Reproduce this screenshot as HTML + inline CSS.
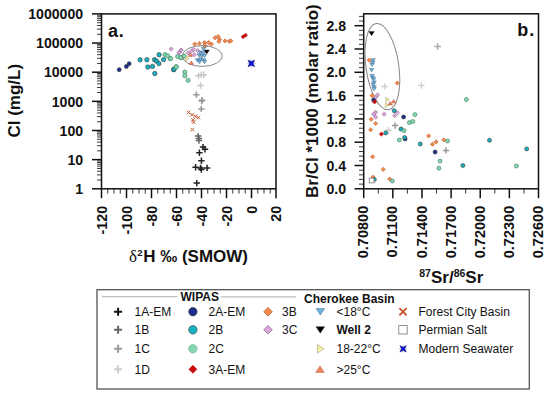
<!DOCTYPE html>
<html><head><meta charset="utf-8"><style>
html,body{margin:0;padding:0;background:#fff;width:550px;height:397px;overflow:hidden}
svg{display:block}
</style></head><body>
<svg width="550" height="397" viewBox="0 0 550 397">
<rect width="550" height="397" fill="#fff"/>
<line x1="97" y1="180.02" x2="101.5" y2="180.02" stroke="#222" stroke-width="0.9"/>
<line x1="97" y1="174.89" x2="101.5" y2="174.89" stroke="#222" stroke-width="0.9"/>
<line x1="97" y1="171.25" x2="101.5" y2="171.25" stroke="#222" stroke-width="0.9"/>
<line x1="97" y1="168.43" x2="101.5" y2="168.43" stroke="#222" stroke-width="0.9"/>
<line x1="97" y1="166.12" x2="101.5" y2="166.12" stroke="#222" stroke-width="0.9"/>
<line x1="97" y1="164.17" x2="101.5" y2="164.17" stroke="#222" stroke-width="0.9"/>
<line x1="97" y1="162.47" x2="101.5" y2="162.47" stroke="#222" stroke-width="0.9"/>
<line x1="97" y1="160.98" x2="101.5" y2="160.98" stroke="#222" stroke-width="0.9"/>
<line x1="97" y1="150.87" x2="101.5" y2="150.87" stroke="#222" stroke-width="0.9"/>
<line x1="97" y1="145.74" x2="101.5" y2="145.74" stroke="#222" stroke-width="0.9"/>
<line x1="97" y1="142.10" x2="101.5" y2="142.10" stroke="#222" stroke-width="0.9"/>
<line x1="97" y1="139.28" x2="101.5" y2="139.28" stroke="#222" stroke-width="0.9"/>
<line x1="97" y1="136.97" x2="101.5" y2="136.97" stroke="#222" stroke-width="0.9"/>
<line x1="97" y1="135.02" x2="101.5" y2="135.02" stroke="#222" stroke-width="0.9"/>
<line x1="97" y1="133.32" x2="101.5" y2="133.32" stroke="#222" stroke-width="0.9"/>
<line x1="97" y1="131.83" x2="101.5" y2="131.83" stroke="#222" stroke-width="0.9"/>
<line x1="97" y1="121.72" x2="101.5" y2="121.72" stroke="#222" stroke-width="0.9"/>
<line x1="97" y1="116.59" x2="101.5" y2="116.59" stroke="#222" stroke-width="0.9"/>
<line x1="97" y1="112.95" x2="101.5" y2="112.95" stroke="#222" stroke-width="0.9"/>
<line x1="97" y1="110.13" x2="101.5" y2="110.13" stroke="#222" stroke-width="0.9"/>
<line x1="97" y1="107.82" x2="101.5" y2="107.82" stroke="#222" stroke-width="0.9"/>
<line x1="97" y1="105.87" x2="101.5" y2="105.87" stroke="#222" stroke-width="0.9"/>
<line x1="97" y1="104.17" x2="101.5" y2="104.17" stroke="#222" stroke-width="0.9"/>
<line x1="97" y1="102.68" x2="101.5" y2="102.68" stroke="#222" stroke-width="0.9"/>
<line x1="97" y1="92.57" x2="101.5" y2="92.57" stroke="#222" stroke-width="0.9"/>
<line x1="97" y1="87.44" x2="101.5" y2="87.44" stroke="#222" stroke-width="0.9"/>
<line x1="97" y1="83.80" x2="101.5" y2="83.80" stroke="#222" stroke-width="0.9"/>
<line x1="97" y1="80.98" x2="101.5" y2="80.98" stroke="#222" stroke-width="0.9"/>
<line x1="97" y1="78.67" x2="101.5" y2="78.67" stroke="#222" stroke-width="0.9"/>
<line x1="97" y1="76.72" x2="101.5" y2="76.72" stroke="#222" stroke-width="0.9"/>
<line x1="97" y1="75.02" x2="101.5" y2="75.02" stroke="#222" stroke-width="0.9"/>
<line x1="97" y1="73.53" x2="101.5" y2="73.53" stroke="#222" stroke-width="0.9"/>
<line x1="97" y1="63.42" x2="101.5" y2="63.42" stroke="#222" stroke-width="0.9"/>
<line x1="97" y1="58.29" x2="101.5" y2="58.29" stroke="#222" stroke-width="0.9"/>
<line x1="97" y1="54.65" x2="101.5" y2="54.65" stroke="#222" stroke-width="0.9"/>
<line x1="97" y1="51.83" x2="101.5" y2="51.83" stroke="#222" stroke-width="0.9"/>
<line x1="97" y1="49.52" x2="101.5" y2="49.52" stroke="#222" stroke-width="0.9"/>
<line x1="97" y1="47.57" x2="101.5" y2="47.57" stroke="#222" stroke-width="0.9"/>
<line x1="97" y1="45.87" x2="101.5" y2="45.87" stroke="#222" stroke-width="0.9"/>
<line x1="97" y1="44.38" x2="101.5" y2="44.38" stroke="#222" stroke-width="0.9"/>
<line x1="97" y1="34.27" x2="101.5" y2="34.27" stroke="#222" stroke-width="0.9"/>
<line x1="97" y1="29.14" x2="101.5" y2="29.14" stroke="#222" stroke-width="0.9"/>
<line x1="97" y1="25.50" x2="101.5" y2="25.50" stroke="#222" stroke-width="0.9"/>
<line x1="97" y1="22.68" x2="101.5" y2="22.68" stroke="#222" stroke-width="0.9"/>
<line x1="97" y1="20.37" x2="101.5" y2="20.37" stroke="#222" stroke-width="0.9"/>
<line x1="97" y1="18.42" x2="101.5" y2="18.42" stroke="#222" stroke-width="0.9"/>
<line x1="97" y1="16.72" x2="101.5" y2="16.72" stroke="#222" stroke-width="0.9"/>
<line x1="97" y1="15.23" x2="101.5" y2="15.23" stroke="#222" stroke-width="0.9"/>
<line x1="92" y1="188.80" x2="101.5" y2="188.80" stroke="#111" stroke-width="1.5"/>
<text x="83.1" y="194.05" text-anchor="end" font-family="'Liberation Sans', sans-serif" font-weight="bold" font-size="14.1" fill="#111">1</text>
<line x1="92" y1="159.65" x2="101.5" y2="159.65" stroke="#111" stroke-width="1.5"/>
<text x="83.1" y="164.90" text-anchor="end" font-family="'Liberation Sans', sans-serif" font-weight="bold" font-size="14.1" fill="#111">10</text>
<line x1="92" y1="130.50" x2="101.5" y2="130.50" stroke="#111" stroke-width="1.5"/>
<text x="83.1" y="135.75" text-anchor="end" font-family="'Liberation Sans', sans-serif" font-weight="bold" font-size="14.1" fill="#111">100</text>
<line x1="92" y1="101.35" x2="101.5" y2="101.35" stroke="#111" stroke-width="1.5"/>
<text x="83.1" y="106.60" text-anchor="end" font-family="'Liberation Sans', sans-serif" font-weight="bold" font-size="14.1" fill="#111">1000</text>
<line x1="92" y1="72.20" x2="101.5" y2="72.20" stroke="#111" stroke-width="1.5"/>
<text x="83.1" y="77.45" text-anchor="end" font-family="'Liberation Sans', sans-serif" font-weight="bold" font-size="14.1" fill="#111">10000</text>
<line x1="92" y1="43.05" x2="101.5" y2="43.05" stroke="#111" stroke-width="1.5"/>
<text x="83.1" y="48.30" text-anchor="end" font-family="'Liberation Sans', sans-serif" font-weight="bold" font-size="14.1" fill="#111">100000</text>
<line x1="92" y1="13.90" x2="101.5" y2="13.90" stroke="#111" stroke-width="1.5"/>
<text x="83.1" y="19.15" text-anchor="end" font-family="'Liberation Sans', sans-serif" font-weight="bold" font-size="14.1" fill="#111">1000000</text>
<line x1="101.50" y1="188.8" x2="101.50" y2="198.2" stroke="#111" stroke-width="1.5"/>
<text transform="translate(106.50,205.9) rotate(-90)" text-anchor="end" font-family="'Liberation Sans', sans-serif" font-weight="bold" font-size="14.3" fill="#111">-120</text>
<line x1="107.75" y1="188.8" x2="107.75" y2="193.6" stroke="#222" stroke-width="0.9"/>
<line x1="114.00" y1="188.8" x2="114.00" y2="193.6" stroke="#222" stroke-width="0.9"/>
<line x1="120.25" y1="188.8" x2="120.25" y2="193.6" stroke="#222" stroke-width="0.9"/>
<line x1="126.50" y1="188.8" x2="126.50" y2="198.2" stroke="#111" stroke-width="1.5"/>
<text transform="translate(131.50,205.9) rotate(-90)" text-anchor="end" font-family="'Liberation Sans', sans-serif" font-weight="bold" font-size="14.3" fill="#111">-100</text>
<line x1="132.75" y1="188.8" x2="132.75" y2="193.6" stroke="#222" stroke-width="0.9"/>
<line x1="139.00" y1="188.8" x2="139.00" y2="193.6" stroke="#222" stroke-width="0.9"/>
<line x1="145.25" y1="188.8" x2="145.25" y2="193.6" stroke="#222" stroke-width="0.9"/>
<line x1="151.50" y1="188.8" x2="151.50" y2="198.2" stroke="#111" stroke-width="1.5"/>
<text transform="translate(156.50,205.9) rotate(-90)" text-anchor="end" font-family="'Liberation Sans', sans-serif" font-weight="bold" font-size="14.3" fill="#111">-80</text>
<line x1="157.75" y1="188.8" x2="157.75" y2="193.6" stroke="#222" stroke-width="0.9"/>
<line x1="164.00" y1="188.8" x2="164.00" y2="193.6" stroke="#222" stroke-width="0.9"/>
<line x1="170.25" y1="188.8" x2="170.25" y2="193.6" stroke="#222" stroke-width="0.9"/>
<line x1="176.50" y1="188.8" x2="176.50" y2="198.2" stroke="#111" stroke-width="1.5"/>
<text transform="translate(181.50,205.9) rotate(-90)" text-anchor="end" font-family="'Liberation Sans', sans-serif" font-weight="bold" font-size="14.3" fill="#111">-60</text>
<line x1="182.75" y1="188.8" x2="182.75" y2="193.6" stroke="#222" stroke-width="0.9"/>
<line x1="189.00" y1="188.8" x2="189.00" y2="193.6" stroke="#222" stroke-width="0.9"/>
<line x1="195.25" y1="188.8" x2="195.25" y2="193.6" stroke="#222" stroke-width="0.9"/>
<line x1="201.50" y1="188.8" x2="201.50" y2="198.2" stroke="#111" stroke-width="1.5"/>
<text transform="translate(206.50,205.9) rotate(-90)" text-anchor="end" font-family="'Liberation Sans', sans-serif" font-weight="bold" font-size="14.3" fill="#111">-40</text>
<line x1="207.75" y1="188.8" x2="207.75" y2="193.6" stroke="#222" stroke-width="0.9"/>
<line x1="214.00" y1="188.8" x2="214.00" y2="193.6" stroke="#222" stroke-width="0.9"/>
<line x1="220.25" y1="188.8" x2="220.25" y2="193.6" stroke="#222" stroke-width="0.9"/>
<line x1="226.50" y1="188.8" x2="226.50" y2="198.2" stroke="#111" stroke-width="1.5"/>
<text transform="translate(231.50,205.9) rotate(-90)" text-anchor="end" font-family="'Liberation Sans', sans-serif" font-weight="bold" font-size="14.3" fill="#111">-20</text>
<line x1="232.75" y1="188.8" x2="232.75" y2="193.6" stroke="#222" stroke-width="0.9"/>
<line x1="239.00" y1="188.8" x2="239.00" y2="193.6" stroke="#222" stroke-width="0.9"/>
<line x1="245.25" y1="188.8" x2="245.25" y2="193.6" stroke="#222" stroke-width="0.9"/>
<line x1="251.50" y1="188.8" x2="251.50" y2="198.2" stroke="#111" stroke-width="1.5"/>
<text transform="translate(256.50,205.9) rotate(-90)" text-anchor="end" font-family="'Liberation Sans', sans-serif" font-weight="bold" font-size="14.3" fill="#111">0</text>
<line x1="257.75" y1="188.8" x2="257.75" y2="193.6" stroke="#222" stroke-width="0.9"/>
<line x1="264.00" y1="188.8" x2="264.00" y2="193.6" stroke="#222" stroke-width="0.9"/>
<line x1="270.25" y1="188.8" x2="270.25" y2="193.6" stroke="#222" stroke-width="0.9"/>
<line x1="276" y1="188.8" x2="276" y2="198.2" stroke="#111" stroke-width="1.5"/>
<text transform="translate(281.00,205.9) rotate(-90)" text-anchor="end" font-family="'Liberation Sans', sans-serif" font-weight="bold" font-size="14.3" fill="#111">20</text>
<rect x="101.5" y="13.9" width="174.5" height="174.9" fill="none" stroke="#111" stroke-width="1.5"/>
<text transform="translate(19.6,100.7) rotate(-90)" text-anchor="middle" font-family="'Liberation Sans', sans-serif" font-weight="bold" font-size="17" fill="#111">Cl (mg/L)</text>
<text x="107.9" y="36.7" font-family="'Liberation Sans', sans-serif" font-weight="bold" font-size="18" letter-spacing="0.9" fill="#111">a.</text>
<text x="188.5" y="262.2" text-anchor="middle" font-family="'Liberation Sans', sans-serif" font-weight="bold" font-size="17" fill="#111"><tspan font-weight="normal" font-family="'Liberation Serif', serif">δ</tspan><tspan font-size="9.5" dy="-6.2" dx="0.3">2</tspan><tspan dy="6.2" dx="0.6">H ‰ (SMOW)</tspan></text>
<circle cx="119.2" cy="69.7" r="2.0" fill="#1b2d8e" stroke="#333" stroke-width="0.6"/>
<circle cx="126.4" cy="66.4" r="2.0" fill="#1b2d8e" stroke="#333" stroke-width="0.6"/>
<circle cx="129.1" cy="63.7" r="2.0" fill="#1b2d8e" stroke="#333" stroke-width="0.6"/>
<circle cx="140.1" cy="59.8" r="2.2" fill="#17b3c3" stroke="#333" stroke-width="0.6"/>
<circle cx="146.9" cy="59.8" r="2.2" fill="#17b3c3" stroke="#333" stroke-width="0.6"/>
<circle cx="147.8" cy="67" r="2.2" fill="#17b3c3" stroke="#333" stroke-width="0.6"/>
<circle cx="152.5" cy="66.4" r="2.2" fill="#17b3c3" stroke="#333" stroke-width="0.6"/>
<circle cx="154.5" cy="59.6" r="2.2" fill="#17b3c3" stroke="#333" stroke-width="0.6"/>
<circle cx="156.5" cy="61.1" r="2.2" fill="#17b3c3" stroke="#333" stroke-width="0.6"/>
<circle cx="158.9" cy="63.6" r="2.2" fill="#17b3c3" stroke="#333" stroke-width="0.6"/>
<circle cx="159.1" cy="54.8" r="2.2" fill="#17b3c3" stroke="#333" stroke-width="0.6"/>
<circle cx="163.6" cy="59.6" r="2.2" fill="#17b3c3" stroke="#333" stroke-width="0.6"/>
<circle cx="154.8" cy="73.5" r="2.2" fill="#17b3c3" stroke="#333" stroke-width="0.6"/>
<circle cx="173.7" cy="69.7" r="2.2" fill="#17b3c3" stroke="#333" stroke-width="0.6"/>
<circle cx="174" cy="69.2" r="2.2" fill="#17b3c3" stroke="#333" stroke-width="0.6"/>
<circle cx="165.1" cy="54.6" r="2.1" fill="#86d7b1" stroke="#4a8a6c" stroke-width="0.7"/>
<circle cx="167.6" cy="55.9" r="2.1" fill="#86d7b1" stroke="#4a8a6c" stroke-width="0.7"/>
<circle cx="170.2" cy="58.6" r="2.1" fill="#86d7b1" stroke="#4a8a6c" stroke-width="0.7"/>
<circle cx="176.2" cy="66.7" r="2.1" fill="#86d7b1" stroke="#4a8a6c" stroke-width="0.7"/>
<circle cx="177.7" cy="56.6" r="2.1" fill="#86d7b1" stroke="#4a8a6c" stroke-width="0.7"/>
<circle cx="181.2" cy="57.6" r="2.1" fill="#86d7b1" stroke="#4a8a6c" stroke-width="0.7"/>
<circle cx="184.3" cy="56.1" r="2.1" fill="#86d7b1" stroke="#4a8a6c" stroke-width="0.7"/>
<circle cx="184.8" cy="72" r="2.1" fill="#86d7b1" stroke="#4a8a6c" stroke-width="0.7"/>
<circle cx="184.8" cy="75.7" r="2.1" fill="#86d7b1" stroke="#4a8a6c" stroke-width="0.7"/>
<circle cx="188.1" cy="80.3" r="2.1" fill="#86d7b1" stroke="#4a8a6c" stroke-width="0.7"/>
<circle cx="170.6" cy="58.5" r="2.1" fill="#86d7b1" stroke="#4a8a6c" stroke-width="0.7"/>
<circle cx="180.8" cy="57.7" r="2.1" fill="#86d7b1" stroke="#4a8a6c" stroke-width="0.7"/>
<circle cx="176.2" cy="67" r="2.1" fill="#86d7b1" stroke="#4a8a6c" stroke-width="0.7"/>
<path d="M171.2 46.9L173.29999999999998 49L171.2 51.1L169.1 49Z" fill="#dfa6de" stroke="#8a6a8a" stroke-width="0.6"/>
<path d="M179.2 50.5L181.29999999999998 52.6L179.2 54.7L177.1 52.6Z" fill="#dfa6de" stroke="#8a6a8a" stroke-width="0.6"/>
<path d="M181.2 47.9L183.29999999999998 50L181.2 52.1L179.1 50Z" fill="#dfa6de" stroke="#8a6a8a" stroke-width="0.6"/>
<path d="M180.8 48.1L182.9 50.2L180.8 52.300000000000004L178.70000000000002 50.2Z" fill="#dfa6de" stroke="#8a6a8a" stroke-width="0.6"/>
<path d="M179.1 50.699999999999996L181.2 52.8L179.1 54.9L177.0 52.8Z" fill="#dfa6de" stroke="#8a6a8a" stroke-width="0.6"/>
<path d="M188.1 50.699999999999996L190.2 52.8L188.1 54.9L186.0 52.8Z" fill="#dfa6de" stroke="#8a6a8a" stroke-width="0.6"/>
<path d="M191.5 49.0L193.6 51.1L191.5 53.2L189.4 51.1Z" fill="#dfa6de" stroke="#8a6a8a" stroke-width="0.6"/>
<path d="M193.8 47.3L195.9 49.4L193.8 51.5L191.70000000000002 49.4Z" fill="#dfa6de" stroke="#8a6a8a" stroke-width="0.6"/>
<path d="M197.8 48.4L199.9 50.5L197.8 52.6L195.70000000000002 50.5Z" fill="#dfa6de" stroke="#8a6a8a" stroke-width="0.6"/>
<path d="M194.4 52.6L196.5 54.7L194.4 56.800000000000004L192.3 54.7Z" fill="#dfa6de" stroke="#8a6a8a" stroke-width="0.6"/>
<path d="M194.7 42.0L196.79999999999998 44.1L194.7 46.2L192.6 44.1Z" fill="#f5884d" stroke="#b5622f" stroke-width="0.6"/>
<path d="M199.3 41.4L201.4 43.5L199.3 45.6L197.20000000000002 43.5Z" fill="#f5884d" stroke="#b5622f" stroke-width="0.6"/>
<path d="M204.6 40.5L206.7 42.6L204.6 44.7L202.5 42.6Z" fill="#f5884d" stroke="#b5622f" stroke-width="0.6"/>
<path d="M208.6 40.5L210.7 42.6L208.6 44.7L206.5 42.6Z" fill="#f5884d" stroke="#b5622f" stroke-width="0.6"/>
<path d="M211.4 42.0L213.5 44.1L211.4 46.2L209.3 44.1Z" fill="#f5884d" stroke="#b5622f" stroke-width="0.6"/>
<path d="M205.2 43.9L207.29999999999998 46L205.2 48.1L203.1 46Z" fill="#f5884d" stroke="#b5622f" stroke-width="0.6"/>
<path d="M215.1 35.699999999999996L217.2 37.8L215.1 39.9L213.0 37.8Z" fill="#f5884d" stroke="#b5622f" stroke-width="0.6"/>
<path d="M218.1 34.5L220.2 36.6L218.1 38.7L216.0 36.6Z" fill="#f5884d" stroke="#b5622f" stroke-width="0.6"/>
<path d="M219.7 37.3L221.79999999999998 39.4L219.7 41.5L217.6 39.4Z" fill="#f5884d" stroke="#b5622f" stroke-width="0.6"/>
<path d="M218.9 39.4L221.0 41.5L218.9 43.6L216.8 41.5Z" fill="#f5884d" stroke="#b5622f" stroke-width="0.6"/>
<path d="M225 38.8L227.1 40.9L225 43.0L222.9 40.9Z" fill="#f5884d" stroke="#b5622f" stroke-width="0.6"/>
<path d="M229.2 39.199999999999996L231.29999999999998 41.3L229.2 43.4L227.1 41.3Z" fill="#f5884d" stroke="#b5622f" stroke-width="0.6"/>
<path d="M230.8 38.8L232.9 40.9L230.8 43.0L228.70000000000002 40.9Z" fill="#f5884d" stroke="#b5622f" stroke-width="0.6"/>
<path d="M204.5 43.6L206.6 45.7L204.5 47.800000000000004L202.4 45.7Z" fill="#f5884d" stroke="#b5622f" stroke-width="0.6"/>
<ellipse cx="202.2" cy="56" rx="20" ry="10.4" fill="none" stroke="#888" stroke-width="1"/>
<path d="M185.62 56.2L185.62 60.8L189.07 58.5Z" fill="#f5f0a6" stroke="#aaa070" stroke-width="0.6"/>
<path d="M188.1 56.38L192.70000000000002 56.38L190.4 52.93Z" fill="#f28552" stroke="#a55" stroke-width="0.5"/>
<path d="M189.0 64.38L193.60000000000002 64.38L191.3 60.93Z" fill="#f28552" stroke="#a55" stroke-width="0.5"/>
<path d="M201.20000000000002 47.38L205.6 47.38L203.4 50.68Z" fill="#6db6df" stroke="#468" stroke-width="0.5"/>
<path d="M198.10000000000002 50.98L202.5 50.98L200.3 54.279999999999994Z" fill="#6db6df" stroke="#468" stroke-width="0.5"/>
<path d="M200.9 51.78L205.29999999999998 51.78L203.1 55.08Z" fill="#6db6df" stroke="#468" stroke-width="0.5"/>
<path d="M197.0 53.78L201.39999999999998 53.78L199.2 57.08Z" fill="#6db6df" stroke="#468" stroke-width="0.5"/>
<path d="M199.5 54.58L203.89999999999998 54.58L201.7 57.879999999999995Z" fill="#6db6df" stroke="#468" stroke-width="0.5"/>
<path d="M202.3 54.28L206.7 54.28L204.5 57.58Z" fill="#6db6df" stroke="#468" stroke-width="0.5"/>
<path d="M195.3 58.78L199.7 58.78L197.5 62.08Z" fill="#6db6df" stroke="#468" stroke-width="0.5"/>
<path d="M198.10000000000002 57.88L202.5 57.88L200.3 61.18Z" fill="#6db6df" stroke="#468" stroke-width="0.5"/>
<path d="M201.4 58.78L205.79999999999998 58.78L203.6 62.08Z" fill="#6db6df" stroke="#468" stroke-width="0.5"/>
<path d="M197.3 60.38L201.7 60.38L199.5 63.68Z" fill="#6db6df" stroke="#468" stroke-width="0.5"/>
<path d="M202.3 60.38L206.7 60.38L204.5 63.68Z" fill="#6db6df" stroke="#468" stroke-width="0.5"/>
<path d="M204.0 49.980000000000004L209.39999999999998 49.980000000000004L206.7 54.03Z" fill="#000" stroke="#333" stroke-width="0.5"/>
<rect x="-2.8" y="-1.35" width="5.6" height="2.7" fill="#c80a0a" stroke="#a00" stroke-width="0.4" transform="translate(244.3 36) rotate(-32)"/>
<path d="M251.3 58.8V68.0M246.70000000000002 63.4H255.9" stroke="#c4c4d0" stroke-width="0.8"/>
<polygon points="254.55,60.15 253.10,63.40 254.55,66.65 251.30,65.20 248.05,66.65 249.50,63.40 248.05,60.15 251.30,61.60" fill="#0a12e6" stroke="#101070" stroke-width="0.6" stroke-linejoin="miter"/>
<path d="M195.20000000000002 75.7H201.6M198.4 72.5V78.9" stroke="#c8c8c8" stroke-width="1.5" fill="none"/>
<path d="M198.10000000000002 74.8H204.5M201.3 71.6V78.0" stroke="#c8c8c8" stroke-width="1.5" fill="none"/>
<path d="M200.60000000000002 74.8H207.0M203.8 71.6V78.0" stroke="#c8c8c8" stroke-width="1.5" fill="none"/>
<path d="M197.3 85.5H203.7M200.5 82.3V88.7" stroke="#c8c8c8" stroke-width="1.5" fill="none"/>
<path d="M193.20000000000002 94.8H199.6M196.4 91.6V98.0" stroke="#999" stroke-width="1.5" fill="none"/>
<path d="M198.9 100.2H205.29999999999998M202.1 97.0V103.4" stroke="#999" stroke-width="1.5" fill="none"/>
<path d="M198.10000000000002 108.9H204.5M201.3 105.7V112.10000000000001" stroke="#999" stroke-width="1.5" fill="none"/>
<path d="M198.5 101.1H204.89999999999998M201.7 97.89999999999999V104.3" stroke="#999" stroke-width="1.5" fill="none"/>
<path d="M186.79999999999998 110.60000000000001L190.4 114.2M190.4 110.60000000000001L186.79999999999998 114.2" stroke="#c4532b" stroke-width="0.95" fill="none"/>
<path d="M190.2 112.9L193.8 116.5M193.8 112.9L190.2 116.5" stroke="#c4532b" stroke-width="0.95" fill="none"/>
<path d="M193.6 114.5L197.20000000000002 118.1M197.20000000000002 114.5L193.6 118.1" stroke="#c4532b" stroke-width="0.95" fill="none"/>
<path d="M196.5 115.8L200.10000000000002 119.39999999999999M200.10000000000002 115.8L196.5 119.39999999999999" stroke="#c4532b" stroke-width="0.95" fill="none"/>
<path d="M191.29999999999998 118.10000000000001L194.9 121.7M194.9 118.10000000000001L191.29999999999998 121.7" stroke="#c4532b" stroke-width="0.95" fill="none"/>
<path d="M191.79999999999998 120.4L195.4 124.0M195.4 120.4L191.79999999999998 124.0" stroke="#c4532b" stroke-width="0.95" fill="none"/>
<path d="M190.6 127.8L194.20000000000002 131.4M194.20000000000002 127.8L190.6 131.4" stroke="#c4532b" stroke-width="0.95" fill="none"/>
<path d="M194.9 136.1H201.29999999999998M198.1 132.9V139.29999999999998" stroke="#666" stroke-width="1.5" fill="none"/>
<path d="M195.70000000000002 138.4H202.1M198.9 135.20000000000002V141.6" stroke="#666" stroke-width="1.5" fill="none"/>
<path d="M195.70000000000002 140.5H202.1M198.9 137.3V143.7" stroke="#666" stroke-width="1.5" fill="none"/>
<path d="M199.8 147.1H206.2M203 143.9V150.29999999999998" stroke="#222" stroke-width="1.5" fill="none"/>
<path d="M201.8 149.2H208.2M205 146.0V152.39999999999998" stroke="#222" stroke-width="1.5" fill="none"/>
<path d="M196.20000000000002 152.8H202.6M199.4 149.60000000000002V156.0" stroke="#222" stroke-width="1.5" fill="none"/>
<path d="M198.20000000000002 160.7H204.6M201.4 157.5V163.89999999999998" stroke="#222" stroke-width="1.5" fill="none"/>
<path d="M192.4 167.2H198.79999999999998M195.6 164.0V170.39999999999998" stroke="#222" stroke-width="1.5" fill="none"/>
<path d="M197.3 167.9H203.7M200.5 164.70000000000002V171.1" stroke="#222" stroke-width="1.5" fill="none"/>
<path d="M198.20000000000002 169.5H204.6M201.4 166.3V172.7" stroke="#222" stroke-width="1.5" fill="none"/>
<path d="M203.9 167.9H210.29999999999998M207.1 164.70000000000002V171.1" stroke="#222" stroke-width="1.5" fill="none"/>
<path d="M193.60000000000002 183.1H200.0M196.8 179.9V186.29999999999998" stroke="#222" stroke-width="1.5" fill="none"/>
<line x1="354.5" y1="188.80" x2="363.7" y2="188.80" stroke="#111" stroke-width="1.5"/>
<text x="346" y="193.90" text-anchor="end" font-family="'Liberation Sans', sans-serif" font-weight="bold" font-size="14.1" fill="#111">0.0</text>
<line x1="359" y1="184.14" x2="363.7" y2="184.14" stroke="#222" stroke-width="0.9"/>
<line x1="359" y1="179.48" x2="363.7" y2="179.48" stroke="#222" stroke-width="0.9"/>
<line x1="359" y1="174.82" x2="363.7" y2="174.82" stroke="#222" stroke-width="0.9"/>
<line x1="359" y1="170.16" x2="363.7" y2="170.16" stroke="#222" stroke-width="0.9"/>
<line x1="354.5" y1="165.50" x2="363.7" y2="165.50" stroke="#111" stroke-width="1.5"/>
<text x="346" y="170.60" text-anchor="end" font-family="'Liberation Sans', sans-serif" font-weight="bold" font-size="14.1" fill="#111">0.4</text>
<line x1="359" y1="160.84" x2="363.7" y2="160.84" stroke="#222" stroke-width="0.9"/>
<line x1="359" y1="156.18" x2="363.7" y2="156.18" stroke="#222" stroke-width="0.9"/>
<line x1="359" y1="151.52" x2="363.7" y2="151.52" stroke="#222" stroke-width="0.9"/>
<line x1="359" y1="146.86" x2="363.7" y2="146.86" stroke="#222" stroke-width="0.9"/>
<line x1="354.5" y1="142.20" x2="363.7" y2="142.20" stroke="#111" stroke-width="1.5"/>
<text x="346" y="147.30" text-anchor="end" font-family="'Liberation Sans', sans-serif" font-weight="bold" font-size="14.1" fill="#111">0.8</text>
<line x1="359" y1="137.54" x2="363.7" y2="137.54" stroke="#222" stroke-width="0.9"/>
<line x1="359" y1="132.88" x2="363.7" y2="132.88" stroke="#222" stroke-width="0.9"/>
<line x1="359" y1="128.22" x2="363.7" y2="128.22" stroke="#222" stroke-width="0.9"/>
<line x1="359" y1="123.56" x2="363.7" y2="123.56" stroke="#222" stroke-width="0.9"/>
<line x1="354.5" y1="118.90" x2="363.7" y2="118.90" stroke="#111" stroke-width="1.5"/>
<text x="346" y="124.00" text-anchor="end" font-family="'Liberation Sans', sans-serif" font-weight="bold" font-size="14.1" fill="#111">1.2</text>
<line x1="359" y1="114.24" x2="363.7" y2="114.24" stroke="#222" stroke-width="0.9"/>
<line x1="359" y1="109.58" x2="363.7" y2="109.58" stroke="#222" stroke-width="0.9"/>
<line x1="359" y1="104.92" x2="363.7" y2="104.92" stroke="#222" stroke-width="0.9"/>
<line x1="359" y1="100.26" x2="363.7" y2="100.26" stroke="#222" stroke-width="0.9"/>
<line x1="354.5" y1="95.60" x2="363.7" y2="95.60" stroke="#111" stroke-width="1.5"/>
<text x="346" y="100.70" text-anchor="end" font-family="'Liberation Sans', sans-serif" font-weight="bold" font-size="14.1" fill="#111">1.6</text>
<line x1="359" y1="90.94" x2="363.7" y2="90.94" stroke="#222" stroke-width="0.9"/>
<line x1="359" y1="86.28" x2="363.7" y2="86.28" stroke="#222" stroke-width="0.9"/>
<line x1="359" y1="81.62" x2="363.7" y2="81.62" stroke="#222" stroke-width="0.9"/>
<line x1="359" y1="76.96" x2="363.7" y2="76.96" stroke="#222" stroke-width="0.9"/>
<line x1="354.5" y1="72.30" x2="363.7" y2="72.30" stroke="#111" stroke-width="1.5"/>
<text x="346" y="77.40" text-anchor="end" font-family="'Liberation Sans', sans-serif" font-weight="bold" font-size="14.1" fill="#111">2.0</text>
<line x1="359" y1="67.64" x2="363.7" y2="67.64" stroke="#222" stroke-width="0.9"/>
<line x1="359" y1="62.98" x2="363.7" y2="62.98" stroke="#222" stroke-width="0.9"/>
<line x1="359" y1="58.32" x2="363.7" y2="58.32" stroke="#222" stroke-width="0.9"/>
<line x1="359" y1="53.66" x2="363.7" y2="53.66" stroke="#222" stroke-width="0.9"/>
<line x1="354.5" y1="49.00" x2="363.7" y2="49.00" stroke="#111" stroke-width="1.5"/>
<text x="346" y="54.10" text-anchor="end" font-family="'Liberation Sans', sans-serif" font-weight="bold" font-size="14.1" fill="#111">2.4</text>
<line x1="359" y1="44.34" x2="363.7" y2="44.34" stroke="#222" stroke-width="0.9"/>
<line x1="359" y1="39.68" x2="363.7" y2="39.68" stroke="#222" stroke-width="0.9"/>
<line x1="359" y1="35.02" x2="363.7" y2="35.02" stroke="#222" stroke-width="0.9"/>
<line x1="359" y1="30.36" x2="363.7" y2="30.36" stroke="#222" stroke-width="0.9"/>
<line x1="354.5" y1="25.70" x2="363.7" y2="25.70" stroke="#111" stroke-width="1.5"/>
<text x="346" y="30.80" text-anchor="end" font-family="'Liberation Sans', sans-serif" font-weight="bold" font-size="14.1" fill="#111">2.8</text>
<line x1="359" y1="21.04" x2="363.7" y2="21.04" stroke="#222" stroke-width="0.9"/>
<line x1="359" y1="16.38" x2="363.7" y2="16.38" stroke="#222" stroke-width="0.9"/>
<line x1="363.70" y1="188.8" x2="363.70" y2="198.2" stroke="#111" stroke-width="1.5"/>
<text transform="translate(368.30,205.8) rotate(-90)" text-anchor="end" font-family="'Liberation Sans', sans-serif" font-weight="bold" font-size="14.5" fill="#111">0.70800</text>
<line x1="378.27" y1="188.8" x2="378.27" y2="193.6" stroke="#222" stroke-width="0.9"/>
<line x1="392.83" y1="188.8" x2="392.83" y2="198.2" stroke="#111" stroke-width="1.5"/>
<text transform="translate(397.43,205.8) rotate(-90)" text-anchor="end" font-family="'Liberation Sans', sans-serif" font-weight="bold" font-size="14.5" fill="#111">0.71100</text>
<line x1="407.40" y1="188.8" x2="407.40" y2="193.6" stroke="#222" stroke-width="0.9"/>
<line x1="421.97" y1="188.8" x2="421.97" y2="198.2" stroke="#111" stroke-width="1.5"/>
<text transform="translate(426.57,205.8) rotate(-90)" text-anchor="end" font-family="'Liberation Sans', sans-serif" font-weight="bold" font-size="14.5" fill="#111">0.71400</text>
<line x1="436.53" y1="188.8" x2="436.53" y2="193.6" stroke="#222" stroke-width="0.9"/>
<line x1="451.10" y1="188.8" x2="451.10" y2="198.2" stroke="#111" stroke-width="1.5"/>
<text transform="translate(455.70,205.8) rotate(-90)" text-anchor="end" font-family="'Liberation Sans', sans-serif" font-weight="bold" font-size="14.5" fill="#111">0.71700</text>
<line x1="465.67" y1="188.8" x2="465.67" y2="193.6" stroke="#222" stroke-width="0.9"/>
<line x1="480.23" y1="188.8" x2="480.23" y2="198.2" stroke="#111" stroke-width="1.5"/>
<text transform="translate(484.83,205.8) rotate(-90)" text-anchor="end" font-family="'Liberation Sans', sans-serif" font-weight="bold" font-size="14.5" fill="#111">0.72000</text>
<line x1="494.80" y1="188.8" x2="494.80" y2="193.6" stroke="#222" stroke-width="0.9"/>
<line x1="509.37" y1="188.8" x2="509.37" y2="198.2" stroke="#111" stroke-width="1.5"/>
<text transform="translate(513.97,205.8) rotate(-90)" text-anchor="end" font-family="'Liberation Sans', sans-serif" font-weight="bold" font-size="14.5" fill="#111">0.72300</text>
<line x1="523.93" y1="188.8" x2="523.93" y2="193.6" stroke="#222" stroke-width="0.9"/>
<line x1="538.50" y1="188.8" x2="538.50" y2="198.2" stroke="#111" stroke-width="1.5"/>
<text transform="translate(543.10,205.8) rotate(-90)" text-anchor="end" font-family="'Liberation Sans', sans-serif" font-weight="bold" font-size="14.5" fill="#111">0.72600</text>
<rect x="363.7" y="13.8" width="174.8" height="175.0" fill="none" stroke="#111" stroke-width="1.5"/>
<text transform="translate(318.2,101.1) rotate(-90)" text-anchor="middle" font-family="'Liberation Sans', sans-serif" font-weight="bold" font-size="17" fill="#111">Br/Cl *1000 (molar ratio)</text>
<text x="517.3" y="36.2" font-family="'Liberation Sans', sans-serif" font-weight="bold" font-size="18" letter-spacing="0.9" fill="#111">b.</text>
<text x="451.3" y="283.2" text-anchor="middle" font-family="'Liberation Sans', sans-serif" font-weight="bold" font-size="17" fill="#111"><tspan font-size="10.5" dy="-6">87</tspan><tspan dy="6">Sr/</tspan><tspan font-size="10.5" dy="-6">86</tspan><tspan dy="6">Sr</tspan></text>
<ellipse cx="382.4" cy="66.6" rx="16.4" ry="43.5" transform="rotate(-8.2 382.4 66.6)" fill="none" stroke="#888" stroke-width="1"/>
<path d="M368.90000000000003 31.580000000000002L374.3 31.580000000000002L371.6 35.63Z" fill="#000" stroke="#333" stroke-width="0.5"/>
<path d="M370.90000000000003 58.68L375.3 58.68L373.1 61.98Z" fill="#6db6df" stroke="#468" stroke-width="0.5"/>
<path d="M370.40000000000003 61.28L374.8 61.28L372.6 64.58Z" fill="#6db6df" stroke="#468" stroke-width="0.5"/>
<path d="M369.90000000000003 63.279999999999994L374.3 63.279999999999994L372.1 66.58Z" fill="#6db6df" stroke="#468" stroke-width="0.5"/>
<path d="M369.40000000000003 68.58000000000001L373.8 68.58000000000001L371.6 71.88000000000001Z" fill="#6db6df" stroke="#468" stroke-width="0.5"/>
<path d="M369.90000000000003 74.38000000000001L374.3 74.38000000000001L372.1 77.68Z" fill="#6db6df" stroke="#468" stroke-width="0.5"/>
<path d="M370.40000000000003 76.38000000000001L374.8 76.38000000000001L372.6 79.68Z" fill="#6db6df" stroke="#468" stroke-width="0.5"/>
<path d="M371.40000000000003 77.88000000000001L375.8 77.88000000000001L373.6 81.18Z" fill="#6db6df" stroke="#468" stroke-width="0.5"/>
<path d="M371.90000000000003 80.88000000000001L376.3 80.88000000000001L374.1 84.18Z" fill="#6db6df" stroke="#468" stroke-width="0.5"/>
<path d="M370.90000000000003 82.88000000000001L375.3 82.88000000000001L373.1 86.18Z" fill="#6db6df" stroke="#468" stroke-width="0.5"/>
<path d="M371.90000000000003 85.38000000000001L376.3 85.38000000000001L374.1 88.68Z" fill="#6db6df" stroke="#468" stroke-width="0.5"/>
<path d="M371.90000000000003 87.48L376.3 87.48L374.1 90.78Z" fill="#6db6df" stroke="#468" stroke-width="0.5"/>
<path d="M369.2 58.1L371.3 60.2L369.2 62.300000000000004L367.09999999999997 60.2Z" fill="#f5884d" stroke="#b5622f" stroke-width="0.6"/>
<path d="M397.3 80.9L399.40000000000003 83L397.3 85.1L395.2 83Z" fill="#f5884d" stroke="#b5622f" stroke-width="0.6"/>
<path d="M372.1 93.5L374.20000000000005 95.6L372.1 97.69999999999999L370.0 95.6Z" fill="#f5884d" stroke="#b5622f" stroke-width="0.6"/>
<path d="M371.1 117.2L373.20000000000005 119.3L371.1 121.39999999999999L369.0 119.3Z" fill="#f5884d" stroke="#b5622f" stroke-width="0.6"/>
<path d="M375.6 121.4L377.70000000000005 123.5L375.6 125.6L373.5 123.5Z" fill="#f5884d" stroke="#b5622f" stroke-width="0.6"/>
<path d="M370.6 127.70000000000002L372.70000000000005 129.8L370.6 131.9L368.5 129.8Z" fill="#f5884d" stroke="#b5622f" stroke-width="0.6"/>
<path d="M372.6 154.70000000000002L374.70000000000005 156.8L372.6 158.9L370.5 156.8Z" fill="#f5884d" stroke="#b5622f" stroke-width="0.6"/>
<path d="M383.2 167.3L385.3 169.4L383.2 171.5L381.09999999999997 169.4Z" fill="#f5884d" stroke="#b5622f" stroke-width="0.6"/>
<path d="M373.1 175.0L375.20000000000005 177.1L373.1 179.2L371.0 177.1Z" fill="#f5884d" stroke="#b5622f" stroke-width="0.6"/>
<path d="M389.6 176.9L391.70000000000005 179L389.6 181.1L387.5 179Z" fill="#f5884d" stroke="#b5622f" stroke-width="0.6"/>
<path d="M428.6 133.8L430.70000000000005 135.9L428.6 138.0L426.5 135.9Z" fill="#f5884d" stroke="#b5622f" stroke-width="0.6"/>
<path d="M436.1 139.8L438.20000000000005 141.9L436.1 144.0L434.0 141.9Z" fill="#f5884d" stroke="#b5622f" stroke-width="0.6"/>
<path d="M432.5 142.1L434.6 144.2L432.5 146.29999999999998L430.4 144.2Z" fill="#f5884d" stroke="#b5622f" stroke-width="0.6"/>
<path d="M443.9 137.8L446.0 139.9L443.9 142.0L441.79999999999995 139.9Z" fill="#f5884d" stroke="#b5622f" stroke-width="0.6"/>
<path d="M377.6 92.80000000000001L379.70000000000005 94.9L377.6 97.0L375.5 94.9Z" fill="#dfa6de" stroke="#8a6a8a" stroke-width="0.6"/>
<path d="M375.6 95.5L377.70000000000005 97.6L375.6 99.69999999999999L373.5 97.6Z" fill="#dfa6de" stroke="#8a6a8a" stroke-width="0.6"/>
<path d="M397.3 110.60000000000001L399.40000000000003 112.7L397.3 114.8L395.2 112.7Z" fill="#dfa6de" stroke="#8a6a8a" stroke-width="0.6"/>
<path d="M394.7 113.60000000000001L396.8 115.7L394.7 117.8L392.59999999999997 115.7Z" fill="#dfa6de" stroke="#8a6a8a" stroke-width="0.6"/>
<path d="M375.6 110.10000000000001L377.70000000000005 112.2L375.6 114.3L373.5 112.2Z" fill="#dfa6de" stroke="#8a6a8a" stroke-width="0.6"/>
<path d="M373.6 112.10000000000001L375.70000000000005 114.2L373.6 116.3L371.5 114.2Z" fill="#dfa6de" stroke="#8a6a8a" stroke-width="0.6"/>
<path d="M375.6 115.10000000000001L377.70000000000005 117.2L375.6 119.3L373.5 117.2Z" fill="#dfa6de" stroke="#8a6a8a" stroke-width="0.6"/>
<path d="M384.2 112.10000000000001L386.3 114.2L384.2 116.3L382.09999999999997 114.2Z" fill="#dfa6de" stroke="#8a6a8a" stroke-width="0.6"/>
<circle cx="373.6" cy="100.1" r="2.0" fill="#1b2d8e" stroke="#333" stroke-width="0.6"/>
<path d="M374.6 99.80000000000001L376.70000000000005 101.9L374.6 104.0L372.5 101.9Z" fill="#c80a0a" stroke="#c80a0a" stroke-width="0.6"/>
<path d="M385.82 97.3L385.82 101.89999999999999L389.27 99.6Z" fill="#f5f0a6" stroke="#aaa070" stroke-width="0.6"/>
<path d="M385.32 102.9L385.32 107.5L388.77 105.2Z" fill="#f5f0a6" stroke="#aaa070" stroke-width="0.6"/>
<path d="M391.4 102.97999999999999L396.0 102.97999999999999L393.7 99.53Z" fill="#f28552" stroke="#a55" stroke-width="0.5"/>
<path d="M387.9 104.97999999999999L392.5 104.97999999999999L390.2 101.53Z" fill="#f28552" stroke="#a55" stroke-width="0.5"/>
<path d="M381.5 86.4H387.9M384.7 83.2V89.60000000000001" stroke="#d0d0d0" stroke-width="1.5" fill="none"/>
<path d="M418.2 85.5H424.59999999999997M421.4 82.3V88.7" stroke="#d0d0d0" stroke-width="1.5" fill="none"/>
<path d="M385.40000000000003 130.2H391.8M388.6 126.99999999999999V133.39999999999998" stroke="#d0d0d0" stroke-width="1.5" fill="none"/>
<path d="M434.5 46.5H440.9M437.7 43.3V49.7" stroke="#aaa" stroke-width="1.5" fill="none"/>
<path d="M391.90000000000003 125.6H398.3M395.1 122.39999999999999V128.79999999999998" stroke="#999" stroke-width="1.5" fill="none"/>
<path d="M442.8 150.4H449.2M446 147.20000000000002V153.6" stroke="#999" stroke-width="1.5" fill="none"/>
<circle cx="403.6" cy="117" r="2.0" fill="#1b2d8e" stroke="#333" stroke-width="0.6"/>
<circle cx="405.1" cy="138.9" r="2.0" fill="#1b2d8e" stroke="#333" stroke-width="0.6"/>
<circle cx="435.1" cy="152.1" r="2.0" fill="#1b2d8e" stroke="#333" stroke-width="0.6"/>
<circle cx="394.2" cy="110.7" r="2.0" fill="#17b3c3" stroke="#333" stroke-width="0.6"/>
<circle cx="401" cy="129" r="2.0" fill="#17b3c3" stroke="#333" stroke-width="0.6"/>
<circle cx="404.6" cy="137.6" r="2.0" fill="#17b3c3" stroke="#333" stroke-width="0.6"/>
<circle cx="385.7" cy="132.9" r="2.0" fill="#17b3c3" stroke="#333" stroke-width="0.6"/>
<circle cx="420.3" cy="144" r="2.0" fill="#17b3c3" stroke="#333" stroke-width="0.6"/>
<circle cx="462.9" cy="165.5" r="2.0" fill="#17b3c3" stroke="#333" stroke-width="0.6"/>
<circle cx="489.5" cy="140.3" r="2.0" fill="#17b3c3" stroke="#333" stroke-width="0.6"/>
<circle cx="526.7" cy="148.9" r="2.0" fill="#17b3c3" stroke="#333" stroke-width="0.6"/>
<circle cx="374.3" cy="179.5" r="2.0" fill="#17b3c3" stroke="#333" stroke-width="0.6"/>
<circle cx="414.9" cy="114.6" r="2.0" fill="#86d7b1" stroke="#4a8a6c" stroke-width="0.7"/>
<circle cx="409.4" cy="122.6" r="2.0" fill="#86d7b1" stroke="#4a8a6c" stroke-width="0.7"/>
<circle cx="412.8" cy="121.5" r="2.0" fill="#86d7b1" stroke="#4a8a6c" stroke-width="0.7"/>
<circle cx="404" cy="130.7" r="2.0" fill="#86d7b1" stroke="#4a8a6c" stroke-width="0.7"/>
<circle cx="399.3" cy="139.9" r="2.0" fill="#86d7b1" stroke="#4a8a6c" stroke-width="0.7"/>
<circle cx="447.5" cy="141" r="2.0" fill="#86d7b1" stroke="#4a8a6c" stroke-width="0.7"/>
<circle cx="440" cy="161.1" r="2.0" fill="#86d7b1" stroke="#4a8a6c" stroke-width="0.7"/>
<circle cx="438.9" cy="168.2" r="2.0" fill="#86d7b1" stroke="#4a8a6c" stroke-width="0.7"/>
<circle cx="466.4" cy="99.6" r="2.0" fill="#86d7b1" stroke="#4a8a6c" stroke-width="0.7"/>
<circle cx="516.4" cy="166" r="2.0" fill="#86d7b1" stroke="#4a8a6c" stroke-width="0.7"/>
<circle cx="392.3" cy="181" r="2.0" fill="#86d7b1" stroke="#4a8a6c" stroke-width="0.7"/>
<path d="M381.4 132.0L383.5 134.1L381.4 136.2L379.29999999999995 134.1Z" fill="#c80a0a" stroke="#c80a0a" stroke-width="0.6"/>
<rect x="369.20000000000005" y="178.1" width="4.8" height="4.8" fill="#fff" stroke="#777" stroke-width="0.8"/>
<rect x="97" y="289.7" width="432.3" height="99.3" fill="none" stroke="#555" stroke-width="1.3"/>
<line x1="102" y1="296.7" x2="177.5" y2="296.7" stroke="#999" stroke-width="0.8"/>
<line x1="221" y1="296.9" x2="296" y2="296.9" stroke="#999" stroke-width="0.8"/>
<text x="180.5" y="301" font-family="'Liberation Sans', sans-serif" font-weight="bold" font-size="12" fill="#111">WIPAS</text>
<text x="304" y="303.2" font-family="'Liberation Sans', sans-serif" font-weight="bold" font-size="12" fill="#111">Cherokee Basin</text>
<path d="M114.1 311.7H122.1M118.1 307.7V315.7" stroke="#111" stroke-width="2" fill="none"/>
<text x="134.5" y="315.9" font-family="'Liberation Sans', sans-serif" font-size="12"  fill="#111">1A-EM</text>
<path d="M114.1 329.8H122.1M118.1 325.8V333.8" stroke="#666" stroke-width="2" fill="none"/>
<text x="134.5" y="334.0" font-family="'Liberation Sans', sans-serif" font-size="12"  fill="#111">1B</text>
<path d="M114.1 348.8H122.1M118.1 344.8V352.8" stroke="#999" stroke-width="2" fill="none"/>
<text x="134.5" y="353.0" font-family="'Liberation Sans', sans-serif" font-size="12"  fill="#111">1C</text>
<path d="M114.1 369.3H122.1M118.1 365.3V373.3" stroke="#ccc" stroke-width="2" fill="none"/>
<text x="134.5" y="373.5" font-family="'Liberation Sans', sans-serif" font-size="12"  fill="#111">1D</text>
<circle cx="192.9" cy="311.7" r="4.2" fill="#1b2d8e" stroke="#333" stroke-width="0.6"/>
<circle cx="192.9" cy="329.8" r="4.2" fill="#17b3c3" stroke="#333" stroke-width="0.6"/>
<circle cx="192.9" cy="348.8" r="4.2" fill="#86d7b1" stroke="#6a9" stroke-width="0.6"/>
<path d="M192.9 365.3L196.9 369.3L192.9 373.3L188.9 369.3Z" fill="#c80a0a" stroke="#c80a0a" stroke-width="0.6"/>
<text x="208.5" y="315.9" font-family="'Liberation Sans', sans-serif" font-size="12"  fill="#111">2A-EM</text>
<text x="208.5" y="334.0" font-family="'Liberation Sans', sans-serif" font-size="12"  fill="#111">2B</text>
<text x="208.5" y="353.0" font-family="'Liberation Sans', sans-serif" font-size="12"  fill="#111">2C</text>
<text x="208.5" y="373.5" font-family="'Liberation Sans', sans-serif" font-size="12"  fill="#111">3A-EM</text>
<path d="M268 307.4L272.3 311.7L268 316.0L263.7 311.7Z" fill="#f5884d" stroke="#a5582a" stroke-width="0.7"/>
<text x="282" y="315.9" font-family="'Liberation Sans', sans-serif" font-size="12"  fill="#111">3B</text>
<path d="M268 325.5L272.3 329.8L268 334.1L263.7 329.8Z" fill="#dfa6de" stroke="#7a5a7a" stroke-width="0.7"/>
<text x="282" y="334.0" font-family="'Liberation Sans', sans-serif" font-size="12"  fill="#111">3C</text>
<path d="M316.0 308.62L324.6 308.62L320.3 315.07Z" fill="#6db6df" stroke="#468" stroke-width="0.5"/>
<text x="336.5" y="315.9" font-family="'Liberation Sans', sans-serif" font-size="12"  fill="#111">&lt;18°C</text>
<path d="M316.0 326.72L324.6 326.72L320.3 333.17Z" fill="#000" stroke="#333" stroke-width="0.5"/>
<text x="336.5" y="334.0" font-family="'Liberation Sans', sans-serif" font-size="12" font-weight="bold" fill="#111">Well 2</text>
<path d="M317.42 344.5L317.42 353.1L323.87 348.8Z" fill="#f5f0a6" stroke="#aaa070" stroke-width="0.6"/>
<text x="336.5" y="353.0" font-family="'Liberation Sans', sans-serif" font-size="12"  fill="#111">18-22°C</text>
<path d="M315.7 372.38L324.3 372.38L320 365.93Z" fill="#f28552" stroke="#a55" stroke-width="0.5"/>
<text x="336.5" y="373.5" font-family="'Liberation Sans', sans-serif" font-size="12"  fill="#111">&gt;25°C</text>
<path d="M399.4 308.09999999999997L406.6 315.3M406.6 308.09999999999997L399.4 315.3" stroke="#c4532b" stroke-width="1.9" fill="none"/>
<text x="418.5" y="315.9" font-family="'Liberation Sans', sans-serif" font-size="12"  fill="#111">Forest City Basin</text>
<rect x="398.8" y="325.6" width="8.4" height="8.4" fill="#fff" stroke="#777" stroke-width="0.8"/>
<text x="418.5" y="334.0" font-family="'Liberation Sans', sans-serif" font-size="12"  fill="#111">Permian Salt</text>
<path d="M403.1 344.40000000000003V353.2M398.70000000000005 348.8H407.5" stroke="#c4c4d0" stroke-width="0.8"/>
<polygon points="406.21,345.69 404.70,348.80 406.21,351.91 403.10,350.40 399.99,351.91 401.50,348.80 399.99,345.69 403.10,347.20" fill="#0a12e6" stroke="#101070" stroke-width="0.6" stroke-linejoin="miter"/>
<text x="418.5" y="353.0" font-family="'Liberation Sans', sans-serif" font-size="12"  fill="#111">Modern Seawater</text>
</svg>
</body></html>
